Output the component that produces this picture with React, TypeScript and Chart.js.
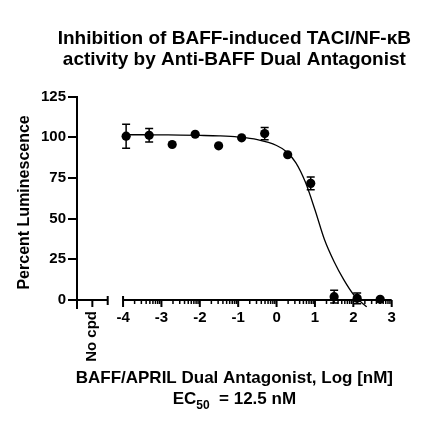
import { useEffect, useRef } from "react";
import { Chart, registerables } from "chart.js";

Chart.register(...registerables);

// log10 of concentration in nM (4-fold dilution series from 500 nM)
const logConc = [-3.92, -3.32, -2.72, -2.12, -1.51, -0.91, -0.31, 0.29, 0.89, 1.5, 2.1, 2.7];
const meanResp = [100.7, 101.3, 95.6, 101.9, 94.8, 99.7, 102.3, 89.3, 71.7, 2.0, 1.0, 0.4];
const sdResp = [7.4, 4.1, 0, 0, 0, 0, 3.8, 0, 3.9, 3.9, 3.3, 0];

// fitted curve
const fitX = [-3.92, -3.5, -3, -2.5, -2, -1.5, -1, -0.5, 0, 0.25, 0.5, 0.75, 1, 1.25, 1.5, 1.75, 2, 2.2, 2.35];
const fitY = [101.6, 101.6, 101.5, 101.4, 101.2, 100.9, 100.2, 98.6, 95, 91.3, 84.5, 72.5, 55.5, 37, 23.5, 12.5, 3.5, -1.2, -4.2];

const yTicks = [0, 25, 50, 75, 100, 125];
const xTicks = [-4, -3, -2, -1, 0, 1, 2, 3];
const minorSteps = [2, 3, 4, 5, 6, 7, 8, 9];
const noCpdPos = -4.8;
const breakPos = -4.4;
const noCpdLabel = "No cpd";

const titleLines = ["Inhibition of BAFF-induced TACI/NF-κB", "activity by Anti-BAFF Dual Antagonist"];
const yTitle = "Percent Luminescence";
const xTitle = "BAFF/APRIL Dual Antagonist, Log [nM]";
const ec50Text = ["EC", "50", "  = 12.5 nM"];

const FONT = "'Liberation Sans', Arial, sans-serif";

const errorBars = {
    id: "errorBars",
    afterDatasetsDraw(chart: any) {
        const { ctx, scales: { x, y } } = chart;
        ctx.save();
        ctx.strokeStyle = "#000";
        ctx.lineWidth = 1.5;
        logConc.forEach((c, i) => {
            if (!sdResp[i]) return;
            const px = x.getPixelForValue(c);
            const top = y.getPixelForValue(meanResp[i] + sdResp[i]);
            const bot = y.getPixelForValue(meanResp[i] - sdResp[i]);
            ctx.beginPath();
            ctx.moveTo(px, top); ctx.lineTo(px, bot);
            ctx.moveTo(px - 4, top); ctx.lineTo(px + 4, top);
            ctx.moveTo(px - 4, bot); ctx.lineTo(px + 4, bot);
            ctx.stroke();
        });
        ctx.restore();
    },
};

const textAndXAxis = {
    id: "textAndXAxis",
    afterDraw(chart: any) {
        const { ctx, chartArea, scales: { x, y } } = chart;
        const y0 = y.getPixelForValue(0);
        const segEnd = x.getPixelForValue(breakPos);
        const mainStart = x.getPixelForValue(xTicks[0]);
        const mainEnd = x.getPixelForValue(xTicks[xTicks.length - 1]);
        const cx = (chartArea.left + chartArea.right) / 2;
        ctx.save();
        ctx.strokeStyle = "#000";
        ctx.lineWidth = 2;
        ctx.beginPath();
        ctx.moveTo(chartArea.left, y0); ctx.lineTo(segEnd, y0);
        ctx.moveTo(mainStart, y0); ctx.lineTo(mainEnd, y0);
        // break caps
        ctx.moveTo(segEnd, y0 - 4); ctx.lineTo(segEnd, y0 + 5);
        ctx.moveTo(mainStart, y0 - 4); ctx.lineTo(mainStart, y0 + 5);
        // major ticks
        [noCpdPos, ...xTicks].forEach((t) => {
            const px = x.getPixelForValue(t);
            ctx.moveTo(px, y0); ctx.lineTo(px, y0 + 7);
        });
        ctx.stroke();
        // minor ticks
        ctx.lineWidth = 1.5;
        ctx.beginPath();
        xTicks.slice(0, -1).forEach((d) => {
            minorSteps.forEach((k) => {
                const px = x.getPixelForValue(d + Math.log10(k));
                ctx.moveTo(px, y0); ctx.lineTo(px, y0 + 4);
            });
        });
        ctx.stroke();

        ctx.fillStyle = "#000";
        ctx.font = `bold 15px ${FONT}`;
        ctx.textAlign = "center";
        ctx.textBaseline = "middle";
        xTicks.forEach((t) => ctx.fillText(String(t), x.getPixelForValue(t), y0 + 18));

        ctx.save();
        ctx.font = `bold 15px ${FONT}`;
        ctx.translate(x.getPixelForValue(noCpdPos), y0 + 11);
        ctx.rotate(-Math.PI / 2);
        ctx.textAlign = "right";
        ctx.fillText(noCpdLabel, 0, 0);
        ctx.restore();

        // main title
        ctx.font = `bold 19px ${FONT}`;
        titleLines.forEach((t, i) => ctx.fillText(t, cx, 39 + i * 21));

        ctx.font = `bold 17px ${FONT}`;
        ctx.fillText(xTitle, cx, 378);

        // EC50 line with subscript
        const bigFont = `bold 17px ${FONT}`;
        const subFont = `bold 12px ${FONT}`;
        ctx.font = bigFont;
        const w1 = ctx.measureText(ec50Text[0]).width;
        const w3 = ctx.measureText(ec50Text[2]).width;
        ctx.font = subFont;
        const w2 = ctx.measureText(ec50Text[1]).width;
        let sx = cx - (w1 + w2 + w3) / 2;
        ctx.textAlign = "left";
        ctx.font = bigFont;
        ctx.fillText(ec50Text[0], sx, 399.5);
        sx += w1;
        ctx.font = subFont;
        ctx.fillText(ec50Text[1], sx, 406);
        sx += w2;
        ctx.font = bigFont;
        ctx.fillText(ec50Text[2], sx, 399.5);
        ctx.restore();
    },
};

export default function App() {
    const chartRef = useRef<HTMLCanvasElement | null>(null);

    useEffect(() => {
        if (!chartRef.current) return;
        const ctx = chartRef.current.getContext("2d");
        if (!ctx) return;

        const myChart = new Chart(ctx, {
            type: "scatter",
            data: {
                datasets: [
                    {
                        label: "Mean",
                        data: logConc.map((c, i) => ({ x: c, y: meanResp[i] })),
                        backgroundColor: "#000",
                        borderColor: "#000",
                        borderWidth: 0,
                        pointRadius: 4.6,
                        showLine: false,
                    },
                    {
                        type: "line",
                        label: "Fit",
                        data: fitX.map((c, i) => ({ x: c, y: fitY[i] })),
                        borderColor: "#000",
                        borderWidth: 1.3,
                        pointRadius: 0,
                        fill: false,
                        cubicInterpolationMode: "monotone",
                    },
                ],
            },
            options: {
                responsive: false,
                animation: false,
                devicePixelRatio: 1,
                layout: { padding: { left: 0, top: 96.7, right: 48.3, bottom: 131.9 } },
                plugins: {
                    legend: { display: false },
                    tooltip: { enabled: false },
                    title: { display: false },
                },
                scales: {
                    x: { type: "linear", min: -5.2, max: 3, display: false },
                    y: {
                        min: -5,
                        max: 125,
                        afterBuildTicks: (s: any) => { s.ticks = yTicks.map((v) => ({ value: v })); },
                        afterFit: (s: any) => { s.width = 77; },
                        border: { color: "#000", width: 2 },
                        grid: { drawOnChartArea: false, color: "#000", lineWidth: 2, tickLength: 9 },
                        ticks: { color: "#000", padding: 2, font: { family: FONT, size: 15, weight: "bold" } },
                        title: {
                            display: true,
                            text: yTitle,
                            color: "#000",
                            font: { family: FONT, size: 16, weight: "bold" },
                            padding: { top: 15, bottom: 0 },
                        },
                    },
                },
            },
            plugins: [errorBars, textAndXAxis],
        });
        return () => {
            myChart.destroy();
        };
    }, []);

    return (
        <div style={{ position: "absolute", left: 0, top: 0, width: 440, height: 440, background: "#fff" }}>
            <canvas ref={chartRef} width={440} height={440} style={{ display: "block" }}></canvas>
        </div>
    );
}
